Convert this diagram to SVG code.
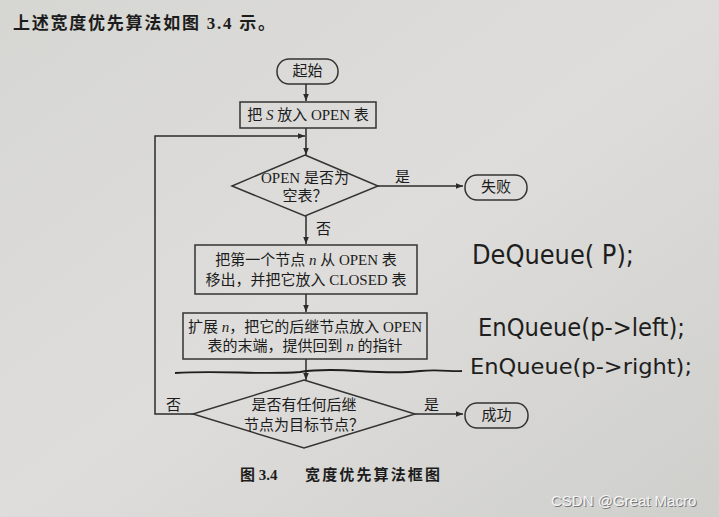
<svg xmlns="http://www.w3.org/2000/svg" width="719" height="517" viewBox="0 0 719 517">
<defs>
<linearGradient id="bg" x1="0" y1="0" x2="1" y2="1">
<stop offset="0" stop-color="#d6d6d3"/>
<stop offset="0.5" stop-color="#dedddb"/>
<stop offset="1" stop-color="#cfcfcc"/>
</linearGradient>
<marker id="ah" viewBox="0 0 10 10" refX="10" refY="5" markerWidth="9" markerHeight="7" orient="auto" markerUnits="userSpaceOnUse">
<path d="M0,1 L10,5 L0,9 Z" fill="#2b2b2b"/>
</marker>
<style>
.shape{fill:none;stroke:#333;stroke-width:1.5}
.ln{fill:none;stroke:#2b2b2b;stroke-width:1.5}
.t{font-family:"Liberation Serif","Noto Sans CJK SC",serif;font-size:15px;fill:#1c1c1c}
.c{text-anchor:middle}
.hw{font-family:"DejaVu Sans Condensed","DejaVu Sans","Noto Sans",sans-serif;font-size:24px;fill:#1e1e1e;font-weight:300}
</style>
</defs>
<rect width="719" height="517" fill="url(#bg)"/>
<text x="13" y="29" class="t" style="font-size:17px;font-weight:bold" textLength="262" lengthAdjust="spacing">上述宽度优先算法如图 3.4 示。</text>

<g id="connectors">
<line class="ln" x1="306" y1="84" x2="306" y2="101" marker-end="url(#ah)"/>
<line class="ln" x1="306" y1="128" x2="306" y2="155" marker-end="url(#ah)"/>
<line class="ln" x1="378" y1="186" x2="463" y2="186" marker-end="url(#ah)"/>
<line class="ln" x1="306" y1="216" x2="306" y2="244" marker-end="url(#ah)"/>
<line class="ln" x1="306" y1="294" x2="306" y2="312" marker-end="url(#ah)"/>
<line class="ln" x1="306" y1="359" x2="306" y2="380" marker-end="url(#ah)"/>
<line class="ln" x1="415" y1="414" x2="463" y2="414" marker-end="url(#ah)"/>
<polyline class="ln" points="193,414 155,414 155,136 305,136" marker-end="url(#ah)"/>
<text x="395" y="182" class="t">是</text>
<text x="316" y="234" class="t">否</text>
<text x="166" y="410" class="t">否</text>
<text x="424" y="410" class="t">是</text>
</g>

<g id="start">
<rect class="shape" x="277" y="59" width="61" height="25" rx="12"/>
<text x="307.5" y="76" class="t c">起始</text>
</g>
<g id="put-s">
<rect class="shape" x="240" y="102" width="136" height="26"/>
<text x="308" y="120" class="t c">把 <tspan font-style="italic">S</tspan> 放入 OPEN 表</text>
</g>
<g id="open-empty">
<polygon class="shape" points="305,155 378,186 305,216 232,186"/>
<text x="305" y="183" class="t c">OPEN 是否为</text>
<text x="305" y="201" class="t c">空表？</text>
</g>
<g id="fail">
<rect class="shape" x="465" y="175" width="62" height="25" rx="12"/>
<text x="496" y="192" class="t c">失败</text>
</g>
<g id="move-n">
<rect class="shape" x="195" y="245" width="222" height="49"/>
<text x="306" y="265" class="t c">把第一个节点 <tspan font-style="italic">n</tspan> 从 OPEN 表</text>
<text x="306" y="285" class="t c">移出，并把它放入 CLOSED 表</text>
</g>
<g id="expand-n">
<rect class="shape" x="183" y="313" width="244" height="46"/>
<text x="305" y="332" class="t c">扩展 <tspan font-style="italic">n</tspan>，把它的后继节点放入 OPEN</text>
<text x="305" y="351" class="t c">表的末端，提供回到 <tspan font-style="italic">n</tspan> 的指针</text>
</g>
<g id="goal-check">
<polygon class="shape" points="304,380 415,414 304,448 193,414"/>
<text x="304" y="410" class="t c">是否有任何后继</text>
<text x="304" y="430" class="t c">节点为目标节点？</text>
</g>
<g id="success">
<rect class="shape" x="465" y="403" width="63" height="25" rx="12"/>
<text x="496.5" y="420" class="t c">成功</text>
</g>

<text x="240" y="480" class="t" style="font-weight:bold">图 3.4</text>
<text x="305" y="480" class="t" style="font-weight:bold" textLength="135" lengthAdjust="spacing">宽度优先算法框图</text>

<path d="M175,373 C220,370 260,375 300,372 C340,366 380,376 420,371 C440,369 452,372 462,371" fill="none" stroke="#1e1e1e" stroke-width="1.8"/>
<text x="472" y="264" class="hw" style="font-size:26px" textLength="162" lengthAdjust="spacingAndGlyphs">DeQueue( P);</text>
<text x="478" y="336" class="hw" textLength="207" lengthAdjust="spacingAndGlyphs">EnQueue(p-&gt;left);</text>
<text x="470" y="374" class="hw" style="font-size:22px" textLength="222" lengthAdjust="spacingAndGlyphs">EnQueue(p-&gt;right);</text>

<text x="551" y="506" style="font-family:'Liberation Sans',Arial,sans-serif;font-size:15px;fill:#777" dx="1" dy="1">CSDN @Great Macro</text>
<text x="551" y="506" style="font-family:'Liberation Sans',Arial,sans-serif;font-size:15px;fill:#f4f4f4">CSDN @Great Macro</text>
</svg>
